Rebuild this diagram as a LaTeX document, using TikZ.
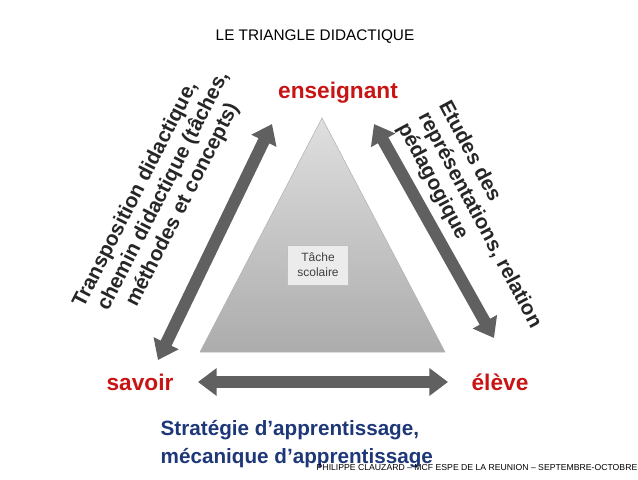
\documentclass[tikz,border=0pt]{standalone}
\usepackage{fontspec}
\setmainfont{Liberation Sans}
\usetikzlibrary{arrows.meta}
\definecolor{lred}{RGB}{200,20,20}
\definecolor{lblue}{RGB}{30,55,120}
\tikzset{
 role/.style={text=lred,font=\bfseries\fontsize{17}{19}\selectfont},
 rot/.style={font=\bfseries\fontsize{15.5}{17.5}\selectfont,text=black!85,align=left,inner sep=0pt},
 fat/.style={line width=9pt,draw=gray!75!black,{Triangle[length=14pt,width=20pt]}-{Triangle[length=14pt,width=20pt]},shorten <=0pt}
}
\begin{document}
\begin{tikzpicture}[x=0.75pt,y=-0.75pt]
\useasboundingbox (0,0) rectangle (638,479);
\node[font=\fontsize{11.5}{13}\selectfont] (title) at (315,37) {LE TRIANGLE DIDACTIQUE};
\coordinate (A) at (322,118); \coordinate (B) at (200,352); \coordinate (C) at (445,352);
\shade[top color=gray!25,bottom color=gray!65,draw=gray!60] (A)--(B)--(C)--cycle;
\node[draw=gray!50,fill=gray!15,align=center,minimum width=46pt,minimum height=30pt,font=\fontsize{9}{11}\selectfont,text=black!75] (t) at (318,265) {Tâche\\scolaire};
\node[role] (e) at (338,93) {enseignant};
\node[role] (s) at (140,382) {savoir};
\node[role] (l) at (500,382) {élève};
\coordinate (l1) at (272,124); \coordinate (l2) at (158,360);
\coordinate (r1) at (374,124); \coordinate (r2) at (494,338);
\coordinate (b1) at (198,382); \coordinate (b2) at (448,382);
\draw[fat] (l1)--(l2);
\draw[fat] (r1)--(r2);
\draw[fat] (b1)--(b2);
\node[rot,rotate=63,anchor=north west] (lt) at (70,302) {Transposition didactique,\\\hspace*{0.4em}chemin didactique (tâches,\\\hspace*{1.2em}méthodes et concepts)};
\node[rot,rotate=-62,anchor=north west] (rt) at (452,98) {Etudes des\\représentations, relation\\pédagogique};
\node[text=lblue,font=\bfseries\fontsize{15.5}{21}\selectfont,align=left,anchor=north west] (bt) at (156,416) {Stratégie d’apprentissage,\\mécanique d’apprentissage};
\node[font=\fontsize{6.5}{7}\selectfont,anchor=west] (f) at (312,468) {PHILIPPE CLAUZARD – MCF ESPE DE LA REUNION – SEPTEMBRE-OCTOBRE 2015};
\end{tikzpicture}
\end{document}
